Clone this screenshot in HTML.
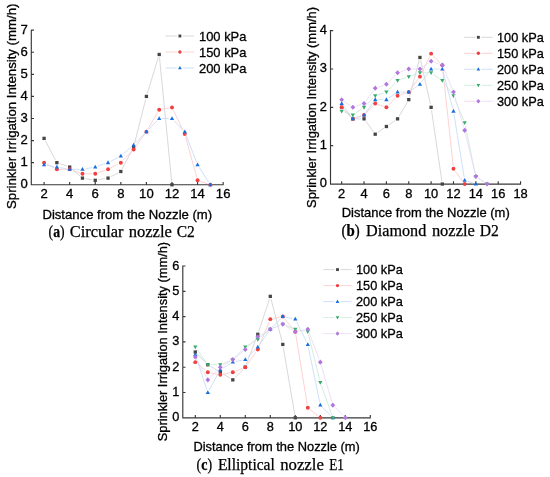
<!DOCTYPE html>
<html><head><meta charset="utf-8"><title>Figure</title>
<style>
html,body{margin:0;padding:0;background:#fff;}
svg{display:block}
text{font-family:"Liberation Sans",Arial,sans-serif;fill:#000;stroke:#000;stroke-width:0.3px;}
text.cap{font-family:"Liberation Serif","Times New Roman",serif;font-size:15.7px;fill:#000;stroke:#000;stroke-width:0.25px;}
</style></head><body>
<svg width="550" height="477" viewBox="0 0 550 477">
<rect width="550" height="477" fill="#fff"/>
<g font-size="13.1"><path d="M31.30 29.69V184.75M30.80 184.75H223.65M31.30 184.75h2.7M31.30 162.67h2.7M31.30 140.59h2.7M31.30 118.51h2.7M31.30 96.43h2.7M31.30 74.35h2.7M31.30 52.27h2.7M31.30 30.19h2.7M44.09 184.75v-2.7M69.67 184.75v-2.7M95.25 184.75v-2.7M120.83 184.75v-2.7M146.41 184.75v-2.7M171.99 184.75v-2.7M197.57 184.75v-2.7M223.15 184.75v-2.7" stroke="#383838" stroke-width="1.15" fill="none"/>
<path d="M45.49 141.04L55.48 160.02M59.72 163.65L66.83 166.11M71.94 169.05L80.19 176.17M85.42 178.64L92.29 179.82M98.21 179.82L105.08 178.64M110.70 176.75L118.17 172.88M122.23 168.85L132.22 149.87M134.35 144.30L145.68 99.34M147.28 93.56L158.33 57.35M159.49 57.46L171.70 181.76" stroke="#cecece" stroke-width="0.8" fill="none"/>
<rect x="42.43" y="136.73" width="3.31" height="3.31" fill="#454545"/>
<rect x="55.22" y="161.01" width="3.31" height="3.31" fill="#454545"/>
<rect x="68.01" y="165.43" width="3.31" height="3.31" fill="#454545"/>
<rect x="80.80" y="176.47" width="3.31" height="3.31" fill="#454545"/>
<rect x="93.59" y="178.68" width="3.31" height="3.31" fill="#454545"/>
<rect x="106.38" y="176.47" width="3.31" height="3.31" fill="#454545"/>
<rect x="119.17" y="169.85" width="3.31" height="3.31" fill="#454545"/>
<rect x="131.96" y="145.56" width="3.31" height="3.31" fill="#454545"/>
<rect x="144.75" y="94.77" width="3.31" height="3.31" fill="#454545"/>
<rect x="157.54" y="52.82" width="3.31" height="3.31" fill="#454545"/>
<rect x="170.33" y="183.09" width="3.31" height="3.31" fill="#454545"/>
<path d="M46.75 164.05L54.22 167.91M59.88 169.29L66.67 169.29M72.51 170.27L79.62 172.73M85.46 173.71L92.25 173.71M98.09 172.73L105.20 170.27M110.70 167.91L118.17 164.05M122.91 160.51L131.54 151.58M135.38 146.99L144.65 134.19M147.91 129.16L157.70 112.27M162.16 109.17L169.03 107.98M173.29 110.17L183.48 131.26M185.58 136.86L196.77 177.44M200.41 181.31L207.52 183.77" stroke="#fcc6c6" stroke-width="0.8" fill="none"/>
<circle cx="44.09" cy="162.67" r="1.98" fill="#F14040"/>
<circle cx="56.88" cy="169.29" r="1.98" fill="#F14040"/>
<circle cx="69.67" cy="169.29" r="1.98" fill="#F14040"/>
<circle cx="82.46" cy="173.71" r="1.98" fill="#F14040"/>
<circle cx="95.25" cy="173.71" r="1.98" fill="#F14040"/>
<circle cx="108.04" cy="169.29" r="1.98" fill="#F14040"/>
<circle cx="120.83" cy="162.67" r="1.98" fill="#F14040"/>
<circle cx="133.62" cy="149.42" r="1.98" fill="#F14040"/>
<circle cx="146.41" cy="131.76" r="1.98" fill="#F14040"/>
<circle cx="159.20" cy="109.68" r="1.98" fill="#F14040"/>
<circle cx="171.99" cy="107.47" r="1.98" fill="#F14040"/>
<circle cx="184.78" cy="133.97" r="1.98" fill="#F14040"/>
<circle cx="197.57" cy="180.33" r="1.98" fill="#F14040"/>
<circle cx="210.36" cy="184.75" r="1.98" fill="#F14040"/>
<path d="M47.05 165.39L53.92 166.58M59.84 167.60L66.71 168.78M72.67 169.29L79.46 169.29M85.42 168.78L92.29 167.60M98.09 166.11L105.20 163.65M110.70 161.29L118.17 157.43M123.10 154.09L131.35 146.97M135.70 142.85L144.33 133.92M148.49 129.60L157.12 120.67M162.20 118.51L168.99 118.51M174.07 120.67L182.70 129.60M185.86 134.56L196.49 162.08M199.19 167.40L208.74 182.23" stroke="#c2d9f7" stroke-width="0.8" fill="none"/>
<path d="M44.09 162.58L46.25 166.35L41.93 166.35Z" fill="#1A6FDF"/>
<path d="M56.88 164.79L59.04 168.56L54.72 168.56Z" fill="#1A6FDF"/>
<path d="M69.67 166.99L71.83 170.77L67.51 170.77Z" fill="#1A6FDF"/>
<path d="M82.46 166.99L84.62 170.77L80.30 170.77Z" fill="#1A6FDF"/>
<path d="M95.25 164.79L97.41 168.56L93.09 168.56Z" fill="#1A6FDF"/>
<path d="M108.04 160.37L110.20 164.14L105.88 164.14Z" fill="#1A6FDF"/>
<path d="M120.83 153.75L122.99 157.52L118.67 157.52Z" fill="#1A6FDF"/>
<path d="M133.62 142.71L135.78 146.48L131.46 146.48Z" fill="#1A6FDF"/>
<path d="M146.41 129.46L148.57 133.23L144.25 133.23Z" fill="#1A6FDF"/>
<path d="M159.20 116.21L161.36 119.98L157.04 119.98Z" fill="#1A6FDF"/>
<path d="M171.99 116.21L174.15 119.98L169.83 119.98Z" fill="#1A6FDF"/>
<path d="M184.78 129.46L186.94 133.23L182.62 133.23Z" fill="#1A6FDF"/>
<path d="M197.57 162.58L199.73 166.35L195.41 166.35Z" fill="#1A6FDF"/>
<path d="M210.36 182.45L212.52 186.22L208.20 186.22Z" fill="#1A6FDF"/>
<text x="27.80" y="188.35" text-anchor="end">0</text>
<text x="27.80" y="166.27" text-anchor="end">1</text>
<text x="27.80" y="144.19" text-anchor="end">2</text>
<text x="27.80" y="122.11" text-anchor="end">3</text>
<text x="27.80" y="100.03" text-anchor="end">4</text>
<text x="27.80" y="77.95" text-anchor="end">5</text>
<text x="27.80" y="55.87" text-anchor="end">6</text>
<text x="27.80" y="33.79" text-anchor="end">7</text>
<text x="44.09" y="198.25" text-anchor="middle">2</text>
<text x="69.67" y="198.25" text-anchor="middle">4</text>
<text x="95.25" y="198.25" text-anchor="middle">6</text>
<text x="120.83" y="198.25" text-anchor="middle">8</text>
<text x="146.41" y="198.25" text-anchor="middle">10</text>
<text x="171.99" y="198.25" text-anchor="middle">12</text>
<text x="197.57" y="198.25" text-anchor="middle">14</text>
<text x="223.15" y="198.25" text-anchor="middle">16</text>
<text x="127.30" y="219.00" text-anchor="middle" textLength="169.7" lengthAdjust="spacingAndGlyphs">Distance from the Nozzle (m)</text>
<text transform="translate(15.50 106.30) rotate(-90)" text-anchor="middle" textLength="205.4" lengthAdjust="spacingAndGlyphs">Sprinkler Irrigation Intensity (mm/h)</text>
<path d="M165.6 36.0H176.89999999999998M182.89999999999998 36.0H194.2" stroke="#cecece" stroke-width="0.8"/>
<rect x="178.46" y="34.56" width="2.88" height="2.88" fill="#454545"/>
<text x="199" y="40.70" textLength="47.4" lengthAdjust="spacingAndGlyphs">100 kPa</text>
<path d="M165.6 52.0H176.89999999999998M182.89999999999998 52.0H194.2" stroke="#fcc6c6" stroke-width="0.8"/>
<circle cx="179.90" cy="52.00" r="1.72" fill="#F14040"/>
<text x="199" y="56.70" textLength="47.4" lengthAdjust="spacingAndGlyphs">150 kPa</text>
<path d="M165.6 68.0H176.89999999999998M182.89999999999998 68.0H194.2" stroke="#c2d9f7" stroke-width="0.8"/>
<path d="M179.90 66.00L181.78 69.28L178.02 69.28Z" fill="#1A6FDF"/>
<text x="199" y="72.70" textLength="47.4" lengthAdjust="spacingAndGlyphs">200 kPa</text>
<text class="cap" x="48.60" y="236.5" textLength="16.00" lengthAdjust="spacingAndGlyphs">(<tspan font-weight="bold">a</tspan>)</text>
<text class="cap" x="69.70" y="236.5" textLength="53.80" lengthAdjust="spacingAndGlyphs">Circular</text>
<text class="cap" x="128.70" y="236.5" textLength="43.20" lengthAdjust="spacingAndGlyphs">nozzle</text>
<text class="cap" x="176.70" y="236.5" textLength="18.10" lengthAdjust="spacingAndGlyphs">C2</text></g>
<g font-size="12.9"><path d="M330.50 30.11V184.05M330.00 184.05H521.06M330.50 184.05h2.7M330.50 145.69h2.7M330.50 107.33h2.7M330.50 68.97h2.7M330.50 30.61h2.7M341.68 184.05v-2.7M364.04 184.05v-2.7M386.40 184.05v-2.7M408.76 184.05v-2.7M431.12 184.05v-2.7M453.48 184.05v-2.7M475.84 184.05v-2.7M498.20 184.05v-2.7M520.56 184.05v-2.7" stroke="#383838" stroke-width="1.15" fill="none"/>
<path d="M343.77 109.48L350.77 116.69M355.86 118.84L361.04 118.84M365.81 121.26L373.45 131.76M377.69 132.48L383.93 128.21M388.87 124.81L395.11 120.54M399.09 116.25L407.25 102.25M409.53 96.76L419.17 60.36M420.60 60.39L430.46 104.40M431.55 110.30L441.87 181.08" stroke="#cecece" stroke-width="0.8" fill="none"/>
<rect x="340.02" y="105.67" width="3.31" height="3.31" fill="#454545"/>
<rect x="351.20" y="117.18" width="3.31" height="3.31" fill="#454545"/>
<rect x="362.38" y="117.18" width="3.31" height="3.31" fill="#454545"/>
<rect x="373.56" y="132.53" width="3.31" height="3.31" fill="#454545"/>
<rect x="384.74" y="124.85" width="3.31" height="3.31" fill="#454545"/>
<rect x="395.92" y="117.18" width="3.31" height="3.31" fill="#454545"/>
<rect x="407.10" y="98.00" width="3.31" height="3.31" fill="#454545"/>
<rect x="418.28" y="55.81" width="3.31" height="3.31" fill="#454545"/>
<rect x="429.46" y="105.67" width="3.31" height="3.31" fill="#454545"/>
<rect x="440.64" y="182.39" width="3.31" height="3.31" fill="#454545"/>
<path d="M343.77 109.48L350.77 116.69M355.70 117.86L361.20 115.98M366.13 112.85L373.13 105.65M378.06 104.47L383.56 106.36M388.49 105.18L395.49 97.97M400.42 94.85L405.92 92.96M410.53 89.56L418.17 79.07M421.25 73.94L429.81 56.32M433.21 55.78L440.21 62.98M442.62 68.12L453.16 165.72M455.25 171.13L462.89 181.63" stroke="#fcc6c6" stroke-width="0.8" fill="none"/>
<circle cx="341.68" cy="107.33" r="1.98" fill="#F14040"/>
<circle cx="352.86" cy="118.84" r="1.98" fill="#F14040"/>
<circle cx="364.04" cy="115.00" r="1.98" fill="#F14040"/>
<circle cx="375.22" cy="103.49" r="1.98" fill="#F14040"/>
<circle cx="386.40" cy="107.33" r="1.98" fill="#F14040"/>
<circle cx="397.58" cy="95.82" r="1.98" fill="#F14040"/>
<circle cx="408.76" cy="91.99" r="1.98" fill="#F14040"/>
<circle cx="419.94" cy="76.64" r="1.98" fill="#F14040"/>
<circle cx="431.12" cy="53.63" r="1.98" fill="#F14040"/>
<circle cx="442.30" cy="65.13" r="1.98" fill="#F14040"/>
<circle cx="453.48" cy="168.71" r="1.98" fill="#F14040"/>
<circle cx="464.66" cy="184.05" r="1.98" fill="#F14040"/>
<path d="M343.45 105.92L351.09 116.41M355.70 117.86L361.20 115.98M365.81 112.58L373.45 102.08M378.22 99.66L383.40 99.66M388.87 97.96L395.11 93.68M400.58 91.99L405.76 91.99M411.23 90.29L417.47 86.01M421.71 81.89L429.35 71.39M434.12 68.97L439.30 68.97M443.07 71.87L452.71 108.27M453.96 114.13L464.18 177.25M467.50 181.19L473.00 183.08" stroke="#c2d9f7" stroke-width="0.8" fill="none"/>
<path d="M341.68 101.19L343.84 104.97L339.52 104.97Z" fill="#1A6FDF"/>
<path d="M352.86 116.54L355.02 120.31L350.70 120.31Z" fill="#1A6FDF"/>
<path d="M364.04 112.70L366.20 116.47L361.88 116.47Z" fill="#1A6FDF"/>
<path d="M375.22 97.36L377.38 101.13L373.06 101.13Z" fill="#1A6FDF"/>
<path d="M386.40 97.36L388.56 101.13L384.24 101.13Z" fill="#1A6FDF"/>
<path d="M397.58 89.69L399.74 93.46L395.42 93.46Z" fill="#1A6FDF"/>
<path d="M408.76 89.69L410.92 93.46L406.60 93.46Z" fill="#1A6FDF"/>
<path d="M419.94 82.01L422.10 85.79L417.78 85.79Z" fill="#1A6FDF"/>
<path d="M431.12 66.67L433.28 70.44L428.96 70.44Z" fill="#1A6FDF"/>
<path d="M442.30 66.67L444.46 70.44L440.14 70.44Z" fill="#1A6FDF"/>
<path d="M453.48 108.87L455.64 112.64L451.32 112.64Z" fill="#1A6FDF"/>
<path d="M464.66 177.91L466.82 181.69L462.50 181.69Z" fill="#1A6FDF"/>
<path d="M475.84 181.75L478.00 185.52L473.68 185.52Z" fill="#1A6FDF"/>
<path d="M344.52 112.14L350.02 114.03M355.33 113.30L361.57 109.03M366.13 105.18L373.13 97.97M378.06 94.85L383.56 92.96M388.49 89.83L395.49 82.63M400.42 79.50L405.92 77.62M411.60 75.67L417.10 73.78M422.94 72.81L428.12 72.81M433.59 74.50L439.83 78.78M444.07 82.90L451.71 93.40M454.63 98.59L463.51 119.90M465.27 125.61L475.23 173.44M478.31 178.08L484.55 182.35" stroke="#c8e8d6" stroke-width="0.8" fill="none"/>
<path d="M341.68 113.47L343.84 109.69L339.52 109.69Z" fill="#37AD6B"/>
<path d="M352.86 117.30L355.02 113.53L350.70 113.53Z" fill="#37AD6B"/>
<path d="M364.04 109.63L366.20 105.86L361.88 105.86Z" fill="#37AD6B"/>
<path d="M375.22 98.12L377.38 94.35L373.06 94.35Z" fill="#37AD6B"/>
<path d="M386.40 94.29L388.56 90.51L384.24 90.51Z" fill="#37AD6B"/>
<path d="M397.58 82.78L399.74 79.01L395.42 79.01Z" fill="#37AD6B"/>
<path d="M408.76 78.94L410.92 75.17L406.60 75.17Z" fill="#37AD6B"/>
<path d="M419.94 75.11L422.10 71.33L417.78 71.33Z" fill="#37AD6B"/>
<path d="M431.12 75.11L433.28 71.33L428.96 71.33Z" fill="#37AD6B"/>
<path d="M442.30 82.78L444.46 79.01L440.14 79.01Z" fill="#37AD6B"/>
<path d="M453.48 98.12L455.64 94.35L451.32 94.35Z" fill="#37AD6B"/>
<path d="M464.66 124.97L466.82 121.20L462.50 121.20Z" fill="#37AD6B"/>
<path d="M475.84 178.68L478.00 174.91L473.68 174.91Z" fill="#37AD6B"/>
<path d="M487.02 186.35L489.18 182.58L484.86 182.58Z" fill="#37AD6B"/>
<path d="M344.15 101.36L350.39 105.63M355.70 106.36L361.20 104.47M365.81 101.07L373.45 90.57M378.06 87.18L383.56 85.29M388.49 82.16L395.49 74.96M400.42 71.83L405.92 69.94M411.76 68.97L416.94 68.97M422.41 67.27L428.65 63.00M433.96 62.27L439.46 64.16M443.45 67.90L452.33 89.22M454.32 94.87L463.82 127.47M465.37 133.26L475.13 173.46M478.31 178.08L484.55 182.35" stroke="#e8d8f5" stroke-width="0.8" fill="none"/>
<path d="M341.68 97.13L344.07 99.66L341.68 102.19L339.29 99.66Z" fill="#B177DE"/>
<path d="M352.86 104.80L355.25 107.33L352.86 109.86L350.47 107.33Z" fill="#B177DE"/>
<path d="M364.04 100.96L366.43 103.49L364.04 106.02L361.65 103.49Z" fill="#B177DE"/>
<path d="M375.22 85.62L377.61 88.15L375.22 90.68L372.83 88.15Z" fill="#B177DE"/>
<path d="M386.40 81.78L388.79 84.31L386.40 86.84L384.01 84.31Z" fill="#B177DE"/>
<path d="M397.58 70.28L399.97 72.81L397.58 75.34L395.19 72.81Z" fill="#B177DE"/>
<path d="M408.76 66.44L411.15 68.97L408.76 71.50L406.37 68.97Z" fill="#B177DE"/>
<path d="M419.94 66.44L422.33 68.97L419.94 71.50L417.55 68.97Z" fill="#B177DE"/>
<path d="M431.12 58.77L433.51 61.30L431.12 63.83L428.73 61.30Z" fill="#B177DE"/>
<path d="M442.30 62.60L444.69 65.13L442.30 67.66L439.91 65.13Z" fill="#B177DE"/>
<path d="M453.48 89.46L455.87 91.99L453.48 94.52L451.09 91.99Z" fill="#B177DE"/>
<path d="M464.66 127.82L467.05 130.35L464.66 132.88L462.27 130.35Z" fill="#B177DE"/>
<path d="M475.84 173.85L478.23 176.38L475.84 178.91L473.45 176.38Z" fill="#B177DE"/>
<path d="M487.02 181.52L489.41 184.05L487.02 186.58L484.63 184.05Z" fill="#B177DE"/>
<text x="327.00" y="187.35" text-anchor="end">0</text>
<text x="327.00" y="148.99" text-anchor="end">1</text>
<text x="327.00" y="110.63" text-anchor="end">2</text>
<text x="327.00" y="72.27" text-anchor="end">3</text>
<text x="327.00" y="33.91" text-anchor="end">4</text>
<text x="341.68" y="197.55" text-anchor="middle">2</text>
<text x="364.04" y="197.55" text-anchor="middle">4</text>
<text x="386.40" y="197.55" text-anchor="middle">6</text>
<text x="408.76" y="197.55" text-anchor="middle">8</text>
<text x="431.12" y="197.55" text-anchor="middle">10</text>
<text x="453.48" y="197.55" text-anchor="middle">12</text>
<text x="475.84" y="197.55" text-anchor="middle">14</text>
<text x="498.20" y="197.55" text-anchor="middle">16</text>
<text x="520.56" y="197.55" text-anchor="middle">18</text>
<text x="425.75" y="217.40" text-anchor="middle" textLength="168.0" lengthAdjust="spacingAndGlyphs">Distance from the Nozzle (m)</text>
<text transform="translate(316.10 107.50) rotate(-90)" text-anchor="middle" textLength="200.9" lengthAdjust="spacingAndGlyphs">Sprinkler Irrigation Intensity (mm/h)</text>
<path d="M464 37.3H475.35M481.35 37.3H492.7" stroke="#cecece" stroke-width="0.8"/>
<rect x="476.91" y="35.86" width="2.88" height="2.88" fill="#454545"/>
<text x="497" y="42.00" textLength="46.8" lengthAdjust="spacingAndGlyphs">100 kPa</text>
<path d="M464 53.3H475.35M481.35 53.3H492.7" stroke="#fcc6c6" stroke-width="0.8"/>
<circle cx="478.35" cy="53.30" r="1.72" fill="#F14040"/>
<text x="497" y="58.00" textLength="46.8" lengthAdjust="spacingAndGlyphs">150 kPa</text>
<path d="M464 69.3H475.35M481.35 69.3H492.7" stroke="#c2d9f7" stroke-width="0.8"/>
<path d="M478.35 67.30L480.23 70.58L476.47 70.58Z" fill="#1A6FDF"/>
<text x="497" y="74.00" textLength="46.8" lengthAdjust="spacingAndGlyphs">200 kPa</text>
<path d="M464 85.3H475.35M481.35 85.3H492.7" stroke="#c8e8d6" stroke-width="0.8"/>
<path d="M478.35 87.30L480.23 84.02L476.47 84.02Z" fill="#37AD6B"/>
<text x="497" y="90.00" textLength="46.8" lengthAdjust="spacingAndGlyphs">250 kPa</text>
<path d="M464 101.3H475.35M481.35 101.3H492.7" stroke="#e8d8f5" stroke-width="0.8"/>
<path d="M478.35 99.10L480.43 101.30L478.35 103.50L476.27 101.30Z" fill="#B177DE"/>
<text x="497" y="106.00" textLength="46.8" lengthAdjust="spacingAndGlyphs">300 kPa</text>
<text class="cap" x="341.60" y="235.9" textLength="18.20" lengthAdjust="spacingAndGlyphs">(<tspan font-weight="bold">b</tspan>)</text>
<text class="cap" x="366.10" y="235.9" textLength="60.20" lengthAdjust="spacingAndGlyphs">Diamond</text>
<text class="cap" x="431.90" y="235.9" textLength="42.90" lengthAdjust="spacingAndGlyphs">nozzle</text>
<text class="cap" x="479.70" y="235.9" textLength="19.10" lengthAdjust="spacingAndGlyphs">D2</text></g>
<g font-size="12.75"><path d="M182.80 265.50V417.80M182.30 417.80H370.80M182.80 417.80h2.7M182.80 392.50h2.7M182.80 367.20h2.7M182.80 341.90h2.7M182.80 316.60h2.7M182.80 291.30h2.7M182.80 266.00h2.7M195.30 417.80v-2.7M220.30 417.80v-2.7M245.30 417.80v-2.7M270.30 417.80v-2.7M295.30 417.80v-2.7M320.30 417.80v-2.7M345.30 417.80v-2.7M370.30 417.80v-2.7" stroke="#383838" stroke-width="1.15" fill="none"/>
<path d="M197.41 354.15L205.69 362.54M210.36 366.23L217.74 370.70M222.86 373.82L230.24 378.29M234.91 377.72L243.19 369.33M246.37 364.40L256.73 337.11M258.74 331.46L269.36 299.21M271.06 299.26L282.04 341.53M283.30 347.39L294.80 414.84" stroke="#cecece" stroke-width="0.8" fill="none"/>
<rect x="193.64" y="350.36" width="3.31" height="3.31" fill="#454545"/>
<rect x="206.14" y="363.01" width="3.31" height="3.31" fill="#454545"/>
<rect x="218.64" y="370.60" width="3.31" height="3.31" fill="#454545"/>
<rect x="231.14" y="378.19" width="3.31" height="3.31" fill="#454545"/>
<rect x="243.64" y="365.54" width="3.31" height="3.31" fill="#454545"/>
<rect x="256.14" y="332.65" width="3.31" height="3.31" fill="#454545"/>
<rect x="268.64" y="294.70" width="3.31" height="3.31" fill="#454545"/>
<rect x="281.14" y="342.77" width="3.31" height="3.31" fill="#454545"/>
<rect x="293.64" y="416.14" width="3.31" height="3.31" fill="#454545"/>
<path d="M197.63 364.03L205.47 370.37M210.74 372.86L217.36 374.19M223.24 374.19L229.86 372.86M235.58 371.13L242.52 368.33M247.03 364.75L256.07 351.94M258.94 346.72L269.16 321.90M273.24 318.53L279.86 317.20M284.71 318.92L293.39 329.46M295.79 334.74L307.31 404.72M310.13 409.57L317.97 415.91" stroke="#fcc6c6" stroke-width="0.8" fill="none"/>
<circle cx="195.30" cy="362.14" r="1.98" fill="#F14040"/>
<circle cx="207.80" cy="372.26" r="1.98" fill="#F14040"/>
<circle cx="220.30" cy="374.79" r="1.98" fill="#F14040"/>
<circle cx="232.80" cy="372.26" r="1.98" fill="#F14040"/>
<circle cx="245.30" cy="367.20" r="1.98" fill="#F14040"/>
<circle cx="257.80" cy="349.49" r="1.98" fill="#F14040"/>
<circle cx="270.30" cy="319.13" r="1.98" fill="#F14040"/>
<circle cx="282.80" cy="316.60" r="1.98" fill="#F14040"/>
<circle cx="295.30" cy="331.78" r="1.98" fill="#F14040"/>
<circle cx="307.80" cy="407.68" r="1.98" fill="#F14040"/>
<circle cx="320.30" cy="417.80" r="1.98" fill="#F14040"/>
<path d="M196.24 357.40L206.86 389.65M209.24 389.87L218.86 372.36M222.86 368.17L230.24 363.70M235.74 361.54L242.36 360.21M247.41 357.48L255.69 349.09M259.53 344.51L268.57 331.70M272.41 327.12L280.69 318.73M285.74 317.20L292.36 318.53M296.63 321.82L306.47 341.74M308.40 347.37L319.70 402.21M322.41 407.28L330.69 415.67" stroke="#c2d9f7" stroke-width="0.8" fill="none"/>
<path d="M195.30 352.25L197.46 356.02L193.14 356.02Z" fill="#1A6FDF"/>
<path d="M207.80 390.20L209.96 393.97L205.64 393.97Z" fill="#1A6FDF"/>
<path d="M220.30 367.43L222.46 371.20L218.14 371.20Z" fill="#1A6FDF"/>
<path d="M232.80 359.84L234.96 363.61L230.64 363.61Z" fill="#1A6FDF"/>
<path d="M245.30 357.31L247.46 361.08L243.14 361.08Z" fill="#1A6FDF"/>
<path d="M257.80 344.66L259.96 348.43L255.64 348.43Z" fill="#1A6FDF"/>
<path d="M270.30 326.95L272.46 330.72L268.14 330.72Z" fill="#1A6FDF"/>
<path d="M282.80 314.30L284.96 318.07L280.64 318.07Z" fill="#1A6FDF"/>
<path d="M295.30 316.83L297.46 320.60L293.14 320.60Z" fill="#1A6FDF"/>
<path d="M307.80 342.13L309.96 345.90L305.64 345.90Z" fill="#1A6FDF"/>
<path d="M320.30 402.85L322.46 406.62L318.14 406.62Z" fill="#1A6FDF"/>
<path d="M332.80 415.50L334.96 419.27L330.64 419.27Z" fill="#1A6FDF"/>
<path d="M197.03 349.41L206.07 362.22M210.80 364.67L217.30 364.67M223.08 363.54L230.02 360.74M234.91 357.48L243.19 349.09M247.86 345.40L255.24 340.93M260.13 337.48L267.97 331.14M273.08 328.12L280.02 325.32M285.58 325.32L292.52 328.12M298.24 329.85L304.86 331.18M308.52 334.69L319.58 379.47M321.30 385.21L331.80 414.97" stroke="#c8e8d6" stroke-width="0.8" fill="none"/>
<path d="M195.30 349.26L197.46 345.49L193.14 345.49Z" fill="#37AD6B"/>
<path d="M207.80 366.97L209.96 363.20L205.64 363.20Z" fill="#37AD6B"/>
<path d="M220.30 366.97L222.46 363.20L218.14 363.20Z" fill="#37AD6B"/>
<path d="M232.80 361.91L234.96 358.14L230.64 358.14Z" fill="#37AD6B"/>
<path d="M245.30 349.26L247.46 345.49L243.14 345.49Z" fill="#37AD6B"/>
<path d="M257.80 341.67L259.96 337.90L255.64 337.90Z" fill="#37AD6B"/>
<path d="M270.30 331.55L272.46 327.78L268.14 327.78Z" fill="#37AD6B"/>
<path d="M282.80 326.49L284.96 322.72L280.64 322.72Z" fill="#37AD6B"/>
<path d="M295.30 331.55L297.46 327.78L293.14 327.78Z" fill="#37AD6B"/>
<path d="M307.80 334.08L309.96 330.31L305.64 330.31Z" fill="#37AD6B"/>
<path d="M320.30 384.68L322.46 380.91L318.14 380.91Z" fill="#37AD6B"/>
<path d="M332.80 420.10L334.96 416.33L330.64 416.33Z" fill="#37AD6B"/>
<path d="M196.74 359.71L206.36 377.22M209.91 377.72L218.19 369.33M222.86 365.64L230.24 361.17M235.13 357.72L242.97 351.38M247.41 347.36L255.69 338.97M260.36 335.28L267.74 330.81M273.08 328.12L280.02 325.32M285.36 325.75L292.74 330.22M298.24 331.18L304.86 329.85M308.87 332.05L319.23 359.34M321.14 365.02L331.96 402.27M334.91 407.28L343.19 415.67" stroke="#e8d8f5" stroke-width="0.8" fill="none"/>
<path d="M195.30 354.55L197.69 357.08L195.30 359.61L192.91 357.08Z" fill="#B177DE"/>
<path d="M207.80 377.32L210.19 379.85L207.80 382.38L205.41 379.85Z" fill="#B177DE"/>
<path d="M220.30 364.67L222.69 367.20L220.30 369.73L217.91 367.20Z" fill="#B177DE"/>
<path d="M232.80 357.08L235.19 359.61L232.80 362.14L230.41 359.61Z" fill="#B177DE"/>
<path d="M245.30 346.96L247.69 349.49L245.30 352.02L242.91 349.49Z" fill="#B177DE"/>
<path d="M257.80 334.31L260.19 336.84L257.80 339.37L255.41 336.84Z" fill="#B177DE"/>
<path d="M270.30 326.72L272.69 329.25L270.30 331.78L267.91 329.25Z" fill="#B177DE"/>
<path d="M282.80 321.66L285.19 324.19L282.80 326.72L280.41 324.19Z" fill="#B177DE"/>
<path d="M295.30 329.25L297.69 331.78L295.30 334.31L292.91 331.78Z" fill="#B177DE"/>
<path d="M307.80 326.72L310.19 329.25L307.80 331.78L305.41 329.25Z" fill="#B177DE"/>
<path d="M320.30 359.61L322.69 362.14L320.30 364.67L317.91 362.14Z" fill="#B177DE"/>
<path d="M332.80 402.62L335.19 405.15L332.80 407.68L330.41 405.15Z" fill="#B177DE"/>
<path d="M345.30 415.27L347.69 417.80L345.30 420.33L342.91 417.80Z" fill="#B177DE"/>
<text x="179.30" y="421.30" text-anchor="end">0</text>
<text x="179.30" y="396.00" text-anchor="end">1</text>
<text x="179.30" y="370.70" text-anchor="end">2</text>
<text x="179.30" y="345.40" text-anchor="end">3</text>
<text x="179.30" y="320.10" text-anchor="end">4</text>
<text x="179.30" y="294.80" text-anchor="end">5</text>
<text x="179.30" y="269.50" text-anchor="end">6</text>
<text x="195.30" y="431.10" text-anchor="middle">2</text>
<text x="220.30" y="431.10" text-anchor="middle">4</text>
<text x="245.30" y="431.10" text-anchor="middle">6</text>
<text x="270.30" y="431.10" text-anchor="middle">8</text>
<text x="295.30" y="431.10" text-anchor="middle">10</text>
<text x="320.30" y="431.10" text-anchor="middle">12</text>
<text x="345.30" y="431.10" text-anchor="middle">14</text>
<text x="370.30" y="431.10" text-anchor="middle">16</text>
<text x="276.65" y="450.70" text-anchor="middle" textLength="166.4" lengthAdjust="spacingAndGlyphs">Distance from the Nozzle (m)</text>
<text transform="translate(167.00 341.60) rotate(-90)" text-anchor="middle" textLength="199.4" lengthAdjust="spacingAndGlyphs">Sprinkler Irrigation Intensity (mm/h)</text>
<path d="M323.4 269.6H334.5M340.5 269.6H351.6" stroke="#cecece" stroke-width="0.8"/>
<rect x="336.06" y="268.16" width="2.88" height="2.88" fill="#454545"/>
<text x="356" y="274.30" textLength="46.8" lengthAdjust="spacingAndGlyphs">100 kPa</text>
<path d="M323.4 285.6H334.5M340.5 285.6H351.6" stroke="#fcc6c6" stroke-width="0.8"/>
<circle cx="337.50" cy="285.60" r="1.72" fill="#F14040"/>
<text x="356" y="290.30" textLength="46.8" lengthAdjust="spacingAndGlyphs">150 kPa</text>
<path d="M323.4 301.6H334.5M340.5 301.6H351.6" stroke="#c2d9f7" stroke-width="0.8"/>
<path d="M337.50 299.60L339.38 302.88L335.62 302.88Z" fill="#1A6FDF"/>
<text x="356" y="306.30" textLength="46.8" lengthAdjust="spacingAndGlyphs">200 kPa</text>
<path d="M323.4 317.6H334.5M340.5 317.6H351.6" stroke="#c8e8d6" stroke-width="0.8"/>
<path d="M337.50 319.60L339.38 316.32L335.62 316.32Z" fill="#37AD6B"/>
<text x="356" y="322.30" textLength="46.8" lengthAdjust="spacingAndGlyphs">250 kPa</text>
<path d="M323.4 333.6H334.5M340.5 333.6H351.6" stroke="#e8d8f5" stroke-width="0.8"/>
<path d="M337.50 331.40L339.58 333.60L337.50 335.80L335.42 333.60Z" fill="#B177DE"/>
<text x="356" y="338.30" textLength="46.8" lengthAdjust="spacingAndGlyphs">300 kPa</text>
<text class="cap" x="196.60" y="469.6" textLength="15.50" lengthAdjust="spacingAndGlyphs">(<tspan font-weight="bold">c</tspan>)</text>
<text class="cap" x="217.90" y="469.6" textLength="56.90" lengthAdjust="spacingAndGlyphs">Elliptical</text>
<text class="cap" x="280.20" y="469.6" textLength="43.70" lengthAdjust="spacingAndGlyphs">nozzle</text>
<text class="cap" x="329.20" y="469.6" textLength="14.70" lengthAdjust="spacingAndGlyphs">E1</text></g>
</svg>
</body></html>
